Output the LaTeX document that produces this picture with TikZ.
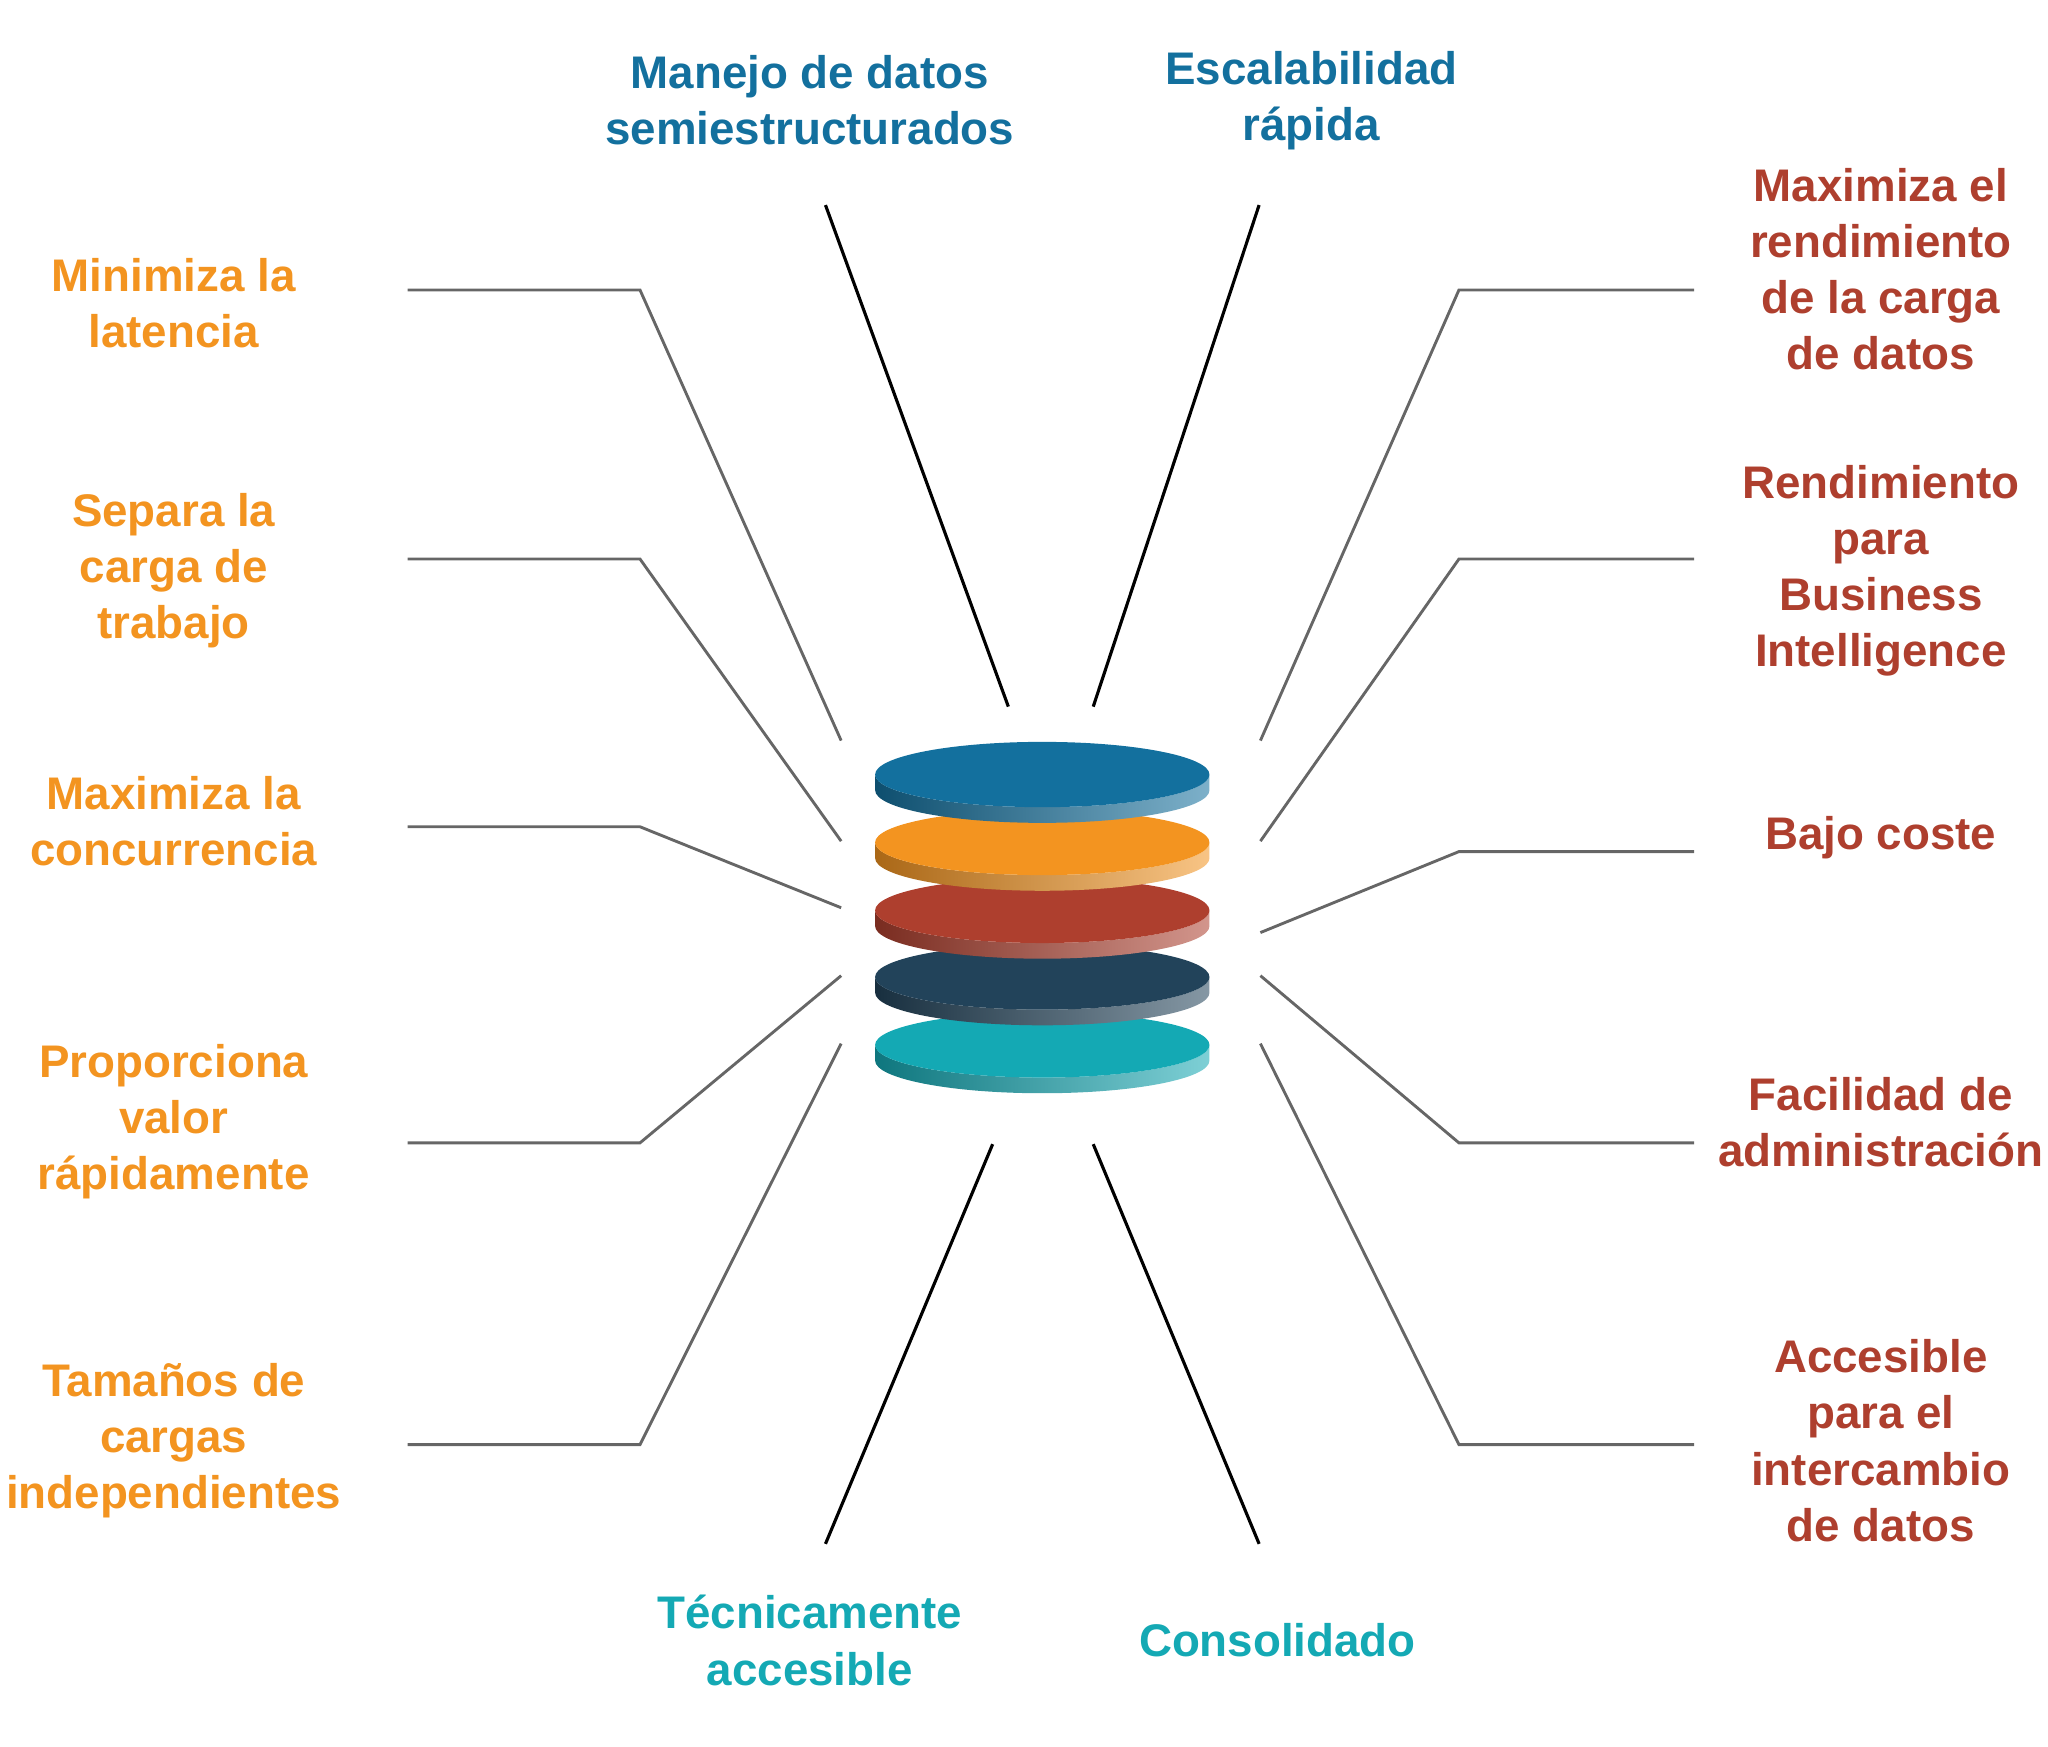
\documentclass[tikz,border=0pt]{standalone}
\usepackage{fontspec}
\setmainfont{Liberation Sans}
\begin{document}
\definecolor{cb}{HTML}{13709E}\definecolor{co}{HTML}{F39420}\definecolor{cr}{HTML}{AE3F2E}
\definecolor{cd}{HTML}{22435A}\definecolor{ct}{HTML}{14A9B4}
\begin{tikzpicture}[x=0.5pt,y=-0.5pt,
 lab/.style={font=\bfseries\fontsize{17.5}{21.5}\selectfont,align=center},
 gl/.style={draw=black!60,line width=1.1pt},
 bl/.style={draw=black,line width=1.2pt}]
\useasboundingbox (0,0) rectangle (1568,1337);
\newcommand\disk[2]{%
 \path[left color=#2!70!black,right color=#2!55!white] (670,#1) -- (670,#1+12) arc[start angle=180,end angle=360,x radius=64pt,y radius=12.5pt] -- (926,#1) arc[start angle=0,end angle=-180,x radius=64pt,y radius=12.5pt] -- cycle;
 \fill[#2] (798,#1) ellipse[x radius=64pt,y radius=12.5pt];}
\disk{800}{ct}\disk{748}{cd}\disk{697}{cr}\disk{645}{co}\disk{593}{cb}
% labels
\node[lab,text=co] (l1) at (133,232) {Minimiza la\\latencia};
\node[lab,text=co] (l2) at (133,437) {Separa la\\carga de\\trabajo};
\node[lab,text=co] (l3) at (133,629) {Maximiza la\\concurrencia};
\node[lab,text=co] (l4) at (133,859) {Proporciona\\valor\\rápidamente};
\node[lab,text=co] (l5) at (133,1103) {Tamaños de\\cargas\\independientes};
\node[lab,text=cr] (r1) at (1440,206) {Maximiza el\\rendimiento\\de la carga\\de datos};
\node[lab,text=cr] (r2) at (1440,437) {Rendimiento\\para\\Business\\Intelligence};
\node[lab,text=cr] (r3) at (1440,641) {Bajo coste};
\node[lab,text=cr] (r4) at (1440,859) {Facilidad de\\administración};
\node[lab,text=cr] (r5) at (1440,1103) {Accesible\\para el\\intercambio\\de datos};
\node[lab,text=cb] (t1) at (620,77) {Manejo de datos\\semiestructurados};
\node[lab,text=cb] (t2) at (1004,77) {Escalabilidad\\rápida};
\node[lab,text=ct] (b1) at (620,1256) {Técnicamente\\accesible};
\node[lab,text=ct] (b2) at (978,1256) {Consolidado};
% connectors
\foreach \n/\ya/\yb in {a/222/567,b/428/644,c/633/695,d/875/747,e/1106/799}{
 \coordinate (L\n s) at (312,\ya); \coordinate (L\n k) at (490,\ya); \coordinate (L\n e) at (644,\yb);
 \draw[gl] (L\n s) -- (L\n k) -- (L\n e);}
\foreach \n/\ya/\yb in {a/222/567,b/428/644,c/652/714,d/875/747,e/1106/799}{
 \coordinate (R\n s) at (1297,\ya); \coordinate (R\n k) at (1117,\ya); \coordinate (R\n e) at (965,\yb);
 \draw[gl] (R\n s) -- (R\n k) -- (R\n e);}
\coordinate (T1a) at (632,157); \coordinate (T1b) at (772,541);
\coordinate (T2a) at (964,157); \coordinate (T2b) at (837,541);
\coordinate (B1a) at (760,876); \coordinate (B1b) at (632,1182);
\coordinate (B2a) at (837,876); \coordinate (B2b) at (964,1182);
\draw[bl] (T1a)--(T1b); \draw[bl] (T2a)--(T2b); \draw[bl] (B1a)--(B1b); \draw[bl] (B2a)--(B2b);
\end{tikzpicture}
\end{document}
